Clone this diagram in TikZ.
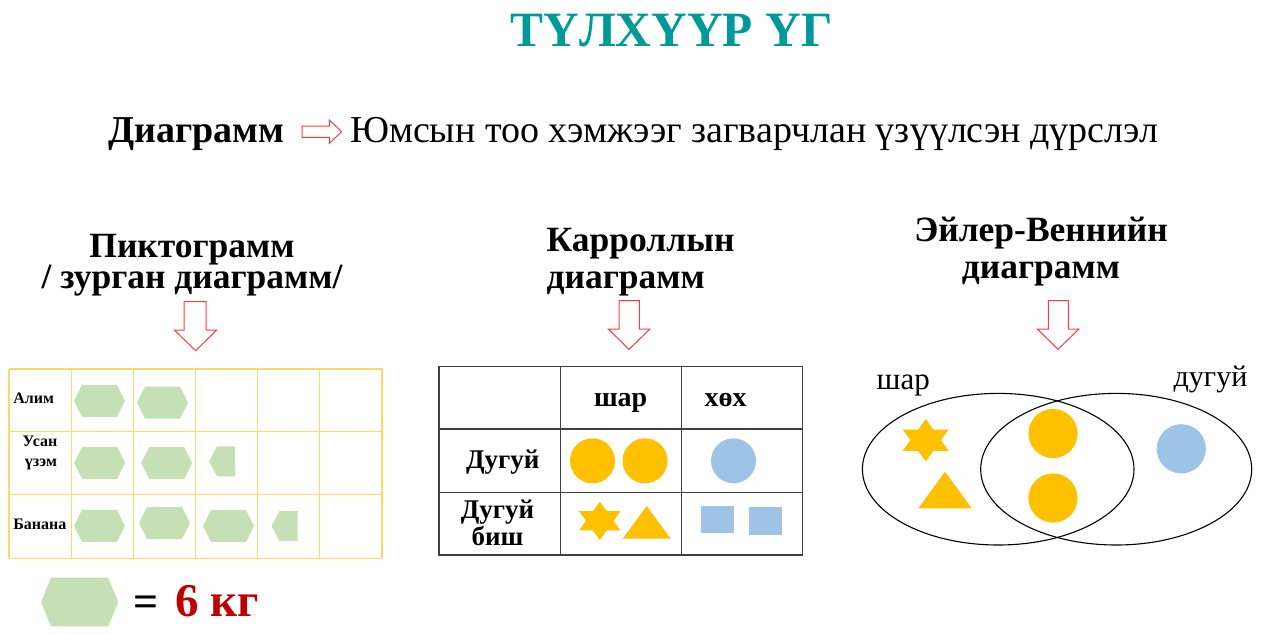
\documentclass[tikz,border=0pt]{standalone}
\usepackage{fontspec}
\setmainfont{Liberation Serif}
\definecolor{titleteal}{HTML}{009999}
\definecolor{hexgreen}{HTML}{C5E0B4}
\definecolor{sunyellow}{HTML}{FFC000}
\definecolor{skyblue}{HTML}{9DC3E6}
\definecolor{gridgold}{HTML}{FFD966}
\definecolor{arrowred}{HTML}{FF3B3B}
\definecolor{darkred}{HTML}{C00000}
\definecolor{tablegray}{HTML}{404040}
\tikzset{
  txt/.style={anchor=base, inner sep=0pt, outer sep=0pt},
  hexfill/.style={fill=hexgreen, draw=none},
  yel/.style={fill=sunyellow, draw=none},
  blu/.style={fill=skyblue, draw=none},
  hollowarrow/.style={draw=arrowred, line width=1pt, fill=white, line join=miter},
  picgrid/.style={draw=gridgold, line width=1.2pt},
  cargrid/.style={draw=tablegray, line width=1.3pt},
  venn/.style={draw=black, line width=1.1pt}
}
\newcommand\hexat[2]{\fill[hexfill, shift={(#1,#2)}] (-25.5,0) -- (-17.5,-16) -- (17.5,-16) -- (25.5,0) -- (17.5,16) -- (-17.5,16) -- cycle;}
\newcommand\halfhexat[2]{\fill[hexfill, shift={(#1,#2)}] (-13,0) -- (-5,-15) -- (13,-15) -- (13,15) -- (-5,15) -- cycle;}
% star: center x, center y, R_x, R_y
\newcommand\starat[4]{%
  \fill[yel, shift={(#1,#2)}] (0,-#4) -- ({0.866*#3},{0.5*#4}) -- ({-0.866*#3},{0.5*#4}) -- cycle;
  \fill[yel, shift={(#1,#2)}] (0,#4) -- ({0.866*#3},{-0.5*#4}) -- ({-0.866*#3},{-0.5*#4}) -- cycle;}
\begin{document}
\begin{tikzpicture}[x=1pt,y=-1pt]
\useasboundingbox (0,0) rectangle (1269,634);

% ---------- title ----------
\node[txt, font=\fontsize{49.4}{49.4}\selectfont\bfseries, text=titleteal] (title) at (671.5,47) {ТҮЛХҮҮР ҮГ};

% ---------- definition line ----------
\node[txt, anchor=base west, font=\fontsize{38}{38}\selectfont\bfseries] (diag) at (108,142) {Диаграмм};
\draw[hollowarrow] (302,126) -- (329.3,126) -- (329.3,120) -- (341.7,131.7) -- (329.3,143.3) -- (329.3,137.3) -- (302,137.3) -- cycle;
\node[txt, anchor=base west, font=\fontsize{38}{38}\selectfont] (defn) at (350,142) {Юмсын тоо хэмжээг загварчлан үзүүлсэн дүрслэл};

% ---------- headings ----------
\node[txt, font=\fontsize{35.5}{28}\selectfont\bfseries] (h1) at (192,257.7)
  {\begin{tabular}[t]{@{}c@{}}Пиктограмм\\[-1pt]/ зурган диаграмм/\end{tabular}};
\node[txt, anchor=base west, font=\fontsize{35.5}{34.5}\selectfont\bfseries] (h2) at (546.7,251)
  {\begin{tabular}[t]{@{}l@{}}Карроллын\\[3pt]диаграмм\end{tabular}};
\node[txt, font=\fontsize{35.5}{34.7}\selectfont\bfseries] (h3) at (1041,241.3)
  {\begin{tabular}[t]{@{}c@{}}Эйлер-Веннийн\\[2pt]диаграмм\end{tabular}};

% ---------- down arrows ----------
\draw[hollowarrow] (184,301.7) -- (206,301.7) -- (206,330) -- (216.7,330) -- (195.7,350.7) -- (174.3,330) -- (184,330) -- cycle;
\draw[hollowarrow] (619,300.5) -- (639.3,300.5) -- (639.3,329) -- (650,329) -- (629,349.3) -- (608.3,329) -- (619,329) -- cycle;
\draw[hollowarrow] (1048.3,300.5) -- (1068.3,300.5) -- (1068.3,329) -- (1079,329) -- (1058,349.3) -- (1037.3,329) -- (1048.3,329) -- cycle;

% ---------- pictogram table ----------
\foreach \xx in {9,71.3,133.3,195.7,257.7,319.7,382} \draw[picgrid] (\xx,369) -- (\xx,558.3);
\foreach \yy in {369,431.3,494.7,558.3} \draw[picgrid] (9,\yy) -- (382,\yy);
\node[txt, anchor=base west, font=\fontsize{16}{16}\selectfont\bfseries] (alim) at (13.3,403.3) {Алим};
\node[txt, font=\fontsize{16}{16}\selectfont\bfseries] (usan) at (40,446) {Усан};
\node[txt, font=\fontsize{16}{16}\selectfont\bfseries] (uzem) at (41,466) {үзэм};
\node[txt, anchor=base west, font=\fontsize{16}{16}\selectfont\bfseries] (banana) at (13.3,529.3) {Банана};
\hexat{99.5}{400.8}
\hexat{162.5}{402.5}
\hexat{99.7}{463}
\hexat{166.7}{463}
\halfhexat{222}{461.3}
\hexat{99.5}{525.8}
\hexat{164.5}{523}
\hexat{228.5}{526.2}
\halfhexat{284.5}{526}

% legend
\fill[hexfill] (41,602) -- (51,577.7) -- (108.3,577.7) -- (118.3,602) -- (108.3,626.3) -- (51,626.3) -- cycle;
\node[txt, font=\fontsize{44}{44}\selectfont\bfseries] (eq) at (146,616.7) {=};
\node[txt, anchor=base west, font=\fontsize{47}{47}\selectfont\bfseries, text=darkred] (six) at (175,616.7) {6 кг};

% ---------- Carroll table ----------
\draw[cargrid] (439,366.7) rectangle (802.3,555);
\draw[cargrid] (560.7,366.7) -- (560.7,555);
\draw[cargrid] (681.7,366.7) -- (681.7,555);
\draw[cargrid] (439,429) -- (802.3,429);
\draw[cargrid] (439,492.7) -- (802.3,492.7);
\node[txt, font=\fontsize{28}{28}\selectfont\bfseries] (shar) at (620.7,406.7) {шар};
\node[txt, font=\fontsize{28}{28}\selectfont\bfseries] (khokh) at (725.7,406.7) {хөх};
\node[txt, font=\fontsize{27}{27}\selectfont\bfseries] (dug1) at (502.8,468.3) {Дугуй};
\node[txt, font=\fontsize{27}{27}\selectfont\bfseries] (dug2) at (497.5,518.3) {Дугуй};
\node[txt, font=\fontsize{27}{27}\selectfont\bfseries] (bish) at (497.5,545) {биш};
\fill[yel] (592.5,460.8) circle (22.5);
\fill[yel] (645,460.8) circle (22.5);
\fill[blu] (733.5,460.8) circle (22.5);
\starat{599.8}{520.8}{24}{19.2}
\fill[yel] (622.7,538.7) -- (646.7,506) -- (670.7,538.7) -- cycle;
\fill[blu] (700.7,506) rectangle (734,533.3);
\fill[blu] (749,507.3) rectangle (781.7,535);

% ---------- Euler-Venn ----------
\draw[venn] (998.2,469.2) ellipse [x radius=135.8, y radius=75.8];
\draw[venn] (1116.2,469.2) ellipse [x radius=135.5, y radius=75.8];
\node[txt, anchor=base west, font=\fontsize{31}{31}\selectfont] (vshar) at (876.7,389.3) {шар};
\node[txt, anchor=base east, font=\fontsize{30}{30}\selectfont] (vdug) at (1247.3,386) {дугуй};
\fill[yel] (1053,433.5) circle (24.6);
\fill[yel] (1053,498) circle (24.6);
\fill[blu] (1181.3,448.8) circle (24.6);
\starat{925.7}{440.2}{26.5}{21.2}
\fill[yel] (918.3,508.3) -- (945,471.7) -- (971.7,508.3) -- cycle;

\end{tikzpicture}
\end{document}
